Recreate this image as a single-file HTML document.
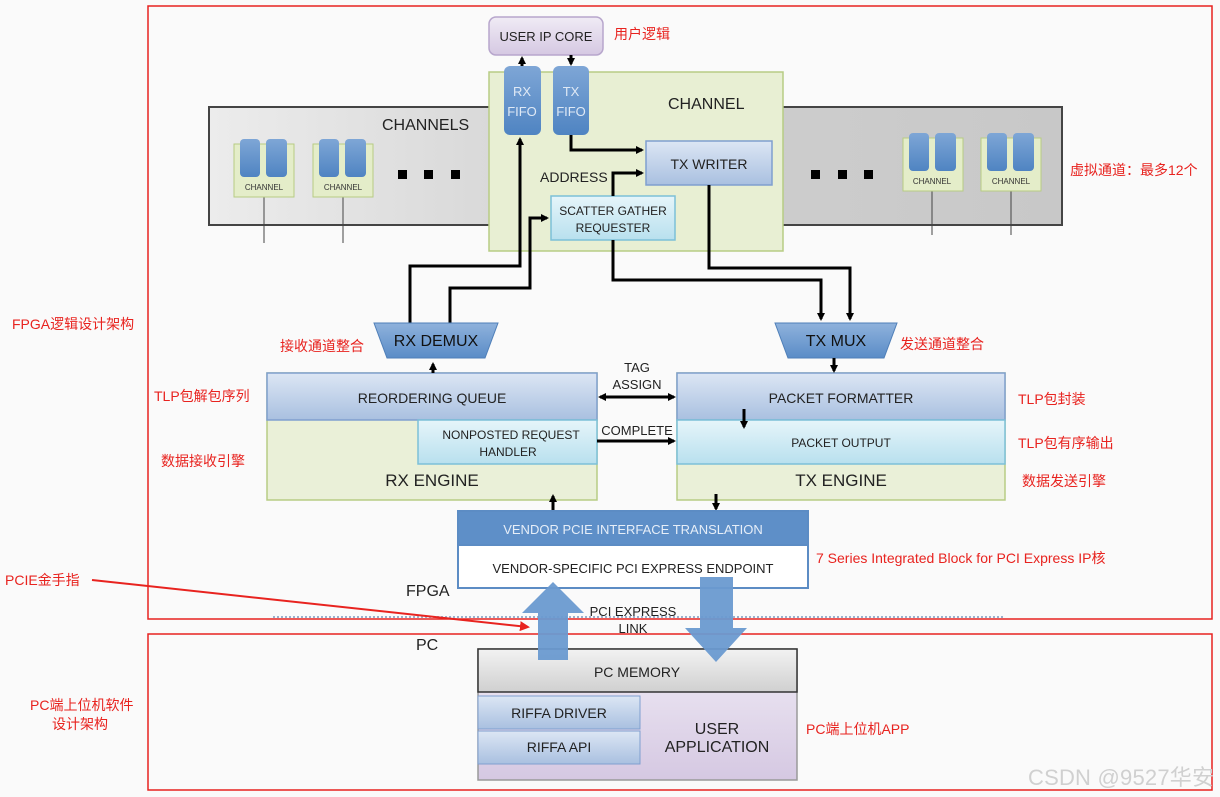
<!DOCTYPE html>
<html><head><meta charset="utf-8"><style>
html,body{margin:0;padding:0;background:#fafafa;}
svg{display:block;}
text{font-family:"Liberation Sans","Noto Sans CJK SC",sans-serif;}
.r{fill:#e8231f;font-size:14px;}
</style></head><body>
<svg width="1220" height="797" viewBox="0 0 1220 797" xmlns="http://www.w3.org/2000/svg">
<defs>
<linearGradient id="gray" x1="0" y1="0" x2="0" y2="1"><stop offset="0" stop-color="#f2f2f2"/><stop offset="1" stop-color="#d0d0d0"/></linearGradient>
<linearGradient id="grayh" x1="0" y1="0" x2="1" y2="0"><stop offset="0" stop-color="#ececec"/><stop offset="0.5" stop-color="#cfcfcf"/><stop offset="1" stop-color="#c8c8c8"/></linearGradient>
<linearGradient id="blue" x1="0" y1="0" x2="0" y2="1"><stop offset="0" stop-color="#dce6f4"/><stop offset="1" stop-color="#a9c0e0"/></linearGradient>
<linearGradient id="fifo" x1="0" y1="0" x2="0" y2="1"><stop offset="0" stop-color="#7ea6d6"/><stop offset="1" stop-color="#4f84c2"/></linearGradient>
<linearGradient id="cyan" x1="0" y1="0" x2="0" y2="1"><stop offset="0" stop-color="#e6f5fa"/><stop offset="1" stop-color="#b8e0ee"/></linearGradient>
<linearGradient id="purp" x1="0" y1="0" x2="0" y2="1"><stop offset="0" stop-color="#f0ebf5"/><stop offset="1" stop-color="#d5c8e2"/></linearGradient>
<linearGradient id="mux" x1="0" y1="0" x2="0" y2="1"><stop offset="0" stop-color="#8fb2dc"/><stop offset="1" stop-color="#5a8cc7"/></linearGradient>
<marker id="a" markerWidth="8" markerHeight="8" refX="6" refY="4" orient="auto" markerUnits="userSpaceOnUse"><path d="M0,0 L8,4 L0,8 z" fill="#000"/></marker>
<marker id="rs" markerWidth="10" markerHeight="10" refX="8" refY="5" orient="auto" markerUnits="userSpaceOnUse"><path d="M0,0 L10,5 L0,10 z" fill="#e8231f"/></marker>
</defs>

<rect x="148" y="6" width="1064" height="613" fill="none" stroke="#e8231f" stroke-width="1.5"/>
<rect x="148" y="634" width="1064" height="156" fill="none" stroke="#e8231f" stroke-width="1.5"/>

<rect x="209" y="107" width="853" height="118" fill="url(#grayh)" stroke="#444" stroke-width="2"/>
<text x="382" y="130" font-size="16" fill="#222">CHANNELS</text>
<g>
<line x1="264" y1="197" x2="264" y2="243" stroke="#444"/><line x1="343" y1="197" x2="343" y2="243" stroke="#444"/>
<line x1="932" y1="191" x2="932" y2="235" stroke="#444"/><line x1="1011" y1="191" x2="1011" y2="235" stroke="#444"/>
<rect x="234" y="144" width="60" height="53" fill="#e4edc9" stroke="#b7cc84"/>
<rect x="240" y="139" width="20" height="38" rx="4" fill="url(#fifo)"/><rect x="266" y="139" width="21" height="38" rx="4" fill="url(#fifo)"/>
<text x="264" y="190" font-size="8" text-anchor="middle" fill="#333">CHANNEL</text>
<rect x="313" y="144" width="60" height="53" fill="#e4edc9" stroke="#b7cc84"/>
<rect x="319" y="139" width="20" height="38" rx="4" fill="url(#fifo)"/><rect x="345" y="139" width="21" height="38" rx="4" fill="url(#fifo)"/>
<text x="343" y="190" font-size="8" text-anchor="middle" fill="#333">CHANNEL</text>
<rect x="903" y="138" width="60" height="53" fill="#e4edc9" stroke="#b7cc84"/>
<rect x="909" y="133" width="20" height="38" rx="4" fill="url(#fifo)"/><rect x="935" y="133" width="21" height="38" rx="4" fill="url(#fifo)"/>
<text x="932" y="184" font-size="8" text-anchor="middle" fill="#333">CHANNEL</text>
<rect x="981" y="138" width="60" height="53" fill="#e4edc9" stroke="#b7cc84"/>
<rect x="987" y="133" width="20" height="38" rx="4" fill="url(#fifo)"/><rect x="1013" y="133" width="21" height="38" rx="4" fill="url(#fifo)"/>
<text x="1011" y="184" font-size="8" text-anchor="middle" fill="#333">CHANNEL</text>
<rect x="398" y="170" width="9" height="9" fill="#000"/><rect x="424" y="170" width="9" height="9" fill="#000"/><rect x="451" y="170" width="9" height="9" fill="#000"/>
<rect x="811" y="170" width="9" height="9" fill="#000"/><rect x="838" y="170" width="9" height="9" fill="#000"/><rect x="864" y="170" width="9" height="9" fill="#000"/>
</g>

<rect x="489" y="72" width="294" height="179" fill="#e8efd3" stroke="#b7cc84" stroke-width="1.5"/>
<text x="668" y="109" font-size="16" fill="#222">CHANNEL</text>
<text x="540" y="182" font-size="14" fill="#222">ADDRESS</text>
<rect x="489" y="17" width="114" height="38" rx="7" fill="url(#purp)" stroke="#b7a6cc" stroke-width="1.5"/>
<text x="546" y="41" font-size="13" text-anchor="middle" fill="#222">USER IP CORE</text>
<rect x="504" y="66" width="37" height="69" rx="6" fill="url(#fifo)"/>
<text x="522" y="96" font-size="13" text-anchor="middle" fill="#dfe9f5">RX</text><text x="522" y="116" font-size="13" text-anchor="middle" fill="#dfe9f5">FIFO</text>
<rect x="553" y="66" width="36" height="69" rx="6" fill="url(#fifo)"/>
<text x="571" y="96" font-size="13" text-anchor="middle" fill="#dfe9f5">TX</text><text x="571" y="116" font-size="13" text-anchor="middle" fill="#dfe9f5">FIFO</text>
<rect x="646" y="141" width="126" height="44" fill="url(#blue)" stroke="#7f9fcf" stroke-width="1.5"/>
<text x="709" y="169" font-size="14" text-anchor="middle" fill="#222">TX WRITER</text>
<rect x="551" y="196" width="124" height="44" fill="url(#cyan)" stroke="#7cc0d8" stroke-width="1.5"/>
<text x="613" y="215" font-size="12" text-anchor="middle" fill="#222">SCATTER GATHER</text>
<text x="613" y="232" font-size="12" text-anchor="middle" fill="#222">REQUESTER</text>

<g stroke="#000" stroke-width="3" fill="none">
<line x1="522" y1="66" x2="522" y2="58" marker-end="url(#a)"/>
<line x1="571" y1="55" x2="571" y2="64" marker-end="url(#a)"/>
<polyline points="571,135 571,150 642,150" marker-end="url(#a)"/>
<polyline points="613,196 613,173 642,173" marker-end="url(#a)"/>
<polyline points="410,323 410,266 520,266 520,139" marker-end="url(#a)"/>
<polyline points="450,323 450,288 530,288 530,218 547,218" marker-end="url(#a)"/>
<polyline points="613,240 613,280 821,280 821,319" marker-end="url(#a)"/>
<polyline points="709,185 709,268 850,268 850,319" marker-end="url(#a)"/>
</g>

<polygon points="374,323 498,323 485,358 387,358" fill="url(#mux)" stroke="#4f7fb8"/>
<text x="436" y="346" font-size="16" text-anchor="middle" fill="#111">RX DEMUX</text>
<polygon points="775,323 897,323 884,358 788,358" fill="url(#mux)" stroke="#4f7fb8"/>
<text x="836" y="346" font-size="16" text-anchor="middle" fill="#111">TX MUX</text>

<rect x="267" y="373" width="330" height="127" fill="#eaf0d8" stroke="#b7cc84" stroke-width="1.5"/>
<rect x="267" y="373" width="330" height="47" fill="url(#blue)" stroke="#7f9fcf" stroke-width="1.5"/>
<text x="432" y="403" font-size="14" text-anchor="middle" fill="#222">REORDERING QUEUE</text>
<rect x="418" y="420" width="179" height="44" fill="url(#cyan)" stroke="#7cc0d8" stroke-width="1.5"/>
<text x="511" y="439" font-size="12" text-anchor="middle" fill="#222">NONPOSTED REQUEST</text>
<text x="508" y="456" font-size="12" text-anchor="middle" fill="#222">HANDLER</text>
<text x="432" y="486" font-size="17" text-anchor="middle" fill="#222">RX ENGINE</text>

<rect x="677" y="373" width="328" height="127" fill="#eaf0d8" stroke="#b7cc84" stroke-width="1.5"/>
<rect x="677" y="373" width="328" height="47" fill="url(#blue)" stroke="#7f9fcf" stroke-width="1.5"/>
<text x="841" y="403" font-size="14" text-anchor="middle" fill="#222">PACKET FORMATTER</text>
<rect x="677" y="420" width="328" height="44" fill="url(#cyan)" stroke="#7cc0d8" stroke-width="1.5"/>
<text x="841" y="447" font-size="12" text-anchor="middle" fill="#222">PACKET OUTPUT</text>
<text x="841" y="486" font-size="17" text-anchor="middle" fill="#222">TX ENGINE</text>

<text x="637" y="372" font-size="13" text-anchor="middle" fill="#222">TAG</text>
<text x="637" y="389" font-size="13" text-anchor="middle" fill="#222">ASSIGN</text>
<text x="637" y="435" font-size="13" text-anchor="middle" fill="#222">COMPLETE</text>

<g stroke="#000" stroke-width="3" fill="none">
<line x1="433" y1="373" x2="433" y2="364" marker-end="url(#a)"/>
<line x1="834" y1="358" x2="834" y2="371" marker-end="url(#a)"/>
<line x1="602" y1="397" x2="674" y2="397" marker-end="url(#a)"/>
<line x1="672" y1="397" x2="600" y2="397" marker-end="url(#a)"/>
<line x1="597" y1="441" x2="674" y2="441" marker-end="url(#a)"/>
<line x1="744" y1="409" x2="744" y2="427" marker-end="url(#a)"/>
<line x1="553" y1="511" x2="553" y2="496" marker-end="url(#a)"/>
<line x1="716" y1="494" x2="716" y2="509" marker-end="url(#a)"/>
</g>

<rect x="458" y="511" width="350" height="77" fill="#fff" stroke="#5c8cc4" stroke-width="2"/>
<rect x="458" y="511" width="350" height="34" fill="#5e8fc8" stroke="#5c8cc4" stroke-width="2"/>
<text x="633" y="534" font-size="13" text-anchor="middle" fill="#e6eef8">VENDOR PCIE INTERFACE TRANSLATION</text>
<text x="633" y="573" font-size="13" text-anchor="middle" fill="#222">VENDOR-SPECIFIC PCI EXPRESS ENDPOINT</text>
<text x="406" y="596" font-size="16" fill="#222">FPGA</text>
<text x="416" y="650" font-size="16" fill="#222">PC</text>
<line x1="273" y1="617" x2="1005" y2="617" stroke="#9ab0cc" stroke-width="2" stroke-dasharray="2,2"/>

<rect x="478" y="649" width="319" height="131" fill="url(#purp)" stroke="#999" stroke-width="1.5"/>
<rect x="478" y="649" width="319" height="43" fill="url(#gray)" stroke="#333" stroke-width="1.5"/>
<text x="637" y="677" font-size="14" text-anchor="middle" fill="#222">PC MEMORY</text>
<rect x="478" y="696" width="162" height="33" fill="url(#blue)" stroke="#7f9fcf"/>
<text x="559" y="718" font-size="14" text-anchor="middle" fill="#222">RIFFA DRIVER</text>
<rect x="478" y="731" width="162" height="33" fill="url(#blue)" stroke="#7f9fcf"/>
<text x="559" y="752" font-size="14" text-anchor="middle" fill="#222">RIFFA API</text>
<text x="717" y="734" font-size="16" text-anchor="middle" fill="#222">USER</text>
<text x="717" y="752" font-size="16" text-anchor="middle" fill="#222">APPLICATION</text>

<polygon points="553,582 584,613 568,613 568,660 538,660 538,613 522,613" fill="#6a9ad0" opacity="0.95"/>
<polygon points="700,577 733,577 733,628 747,628 716,662 685,628 700,628" fill="#6a9ad0" opacity="0.95"/>
<text x="633" y="616" font-size="13" text-anchor="middle" fill="#222">PCI EXPRESS</text>
<text x="633" y="633" font-size="13" text-anchor="middle" fill="#222">LINK</text>

<text class="r" x="614" y="39">用户逻辑</text>
<text class="r" x="1070" y="175">虚拟通道：最多12个</text>
<text class="r" x="12" y="329">FPGA逻辑设计架构</text>
<text class="r" x="280" y="351">接收通道整合</text>
<text class="r" x="900" y="349">发送通道整合</text>
<text class="r" x="154" y="401">TLP包解包序列</text>
<text class="r" x="1018" y="404">TLP包封装</text>
<text class="r" x="1018" y="448">TLP包有序输出</text>
<text class="r" x="161" y="466">数据接收引擎</text>
<text class="r" x="1022" y="486">数据发送引擎</text>
<text class="r" x="816" y="563">7 Series Integrated Block for PCI Express IP核</text>
<text class="r" x="5" y="585">PCIE金手指</text>
<text class="r" x="30" y="710">PC端上位机软件</text>
<text class="r" x="52" y="729">设计架构</text>
<text class="r" x="806" y="734">PC端上位机APP</text>
<line x1="92" y1="580" x2="528" y2="627" stroke="#e8231f" stroke-width="2" marker-end="url(#rs)"/>
<text x="1028" y="785" font-size="22" fill="#d0d0d0" textLength="186">CSDN @9527华安</text>
</svg>
</body></html>
